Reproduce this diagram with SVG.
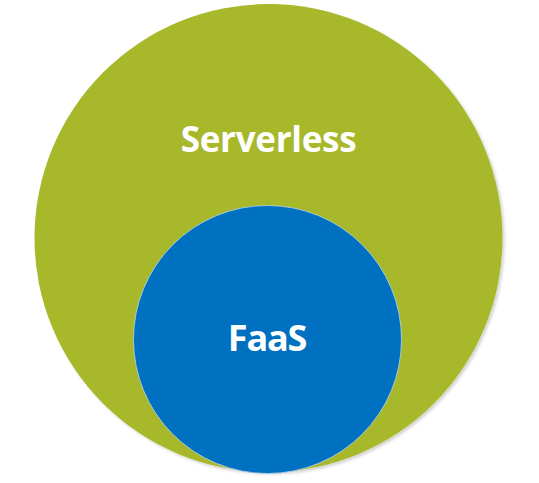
<svg xmlns="http://www.w3.org/2000/svg" width="539" height="483" viewBox="0 0 539 483">
<defs>
<filter id="sh" x="-10%" y="-10%" width="120%" height="120%">
<feGaussianBlur in="SourceAlpha" stdDeviation="1.5"/>
<feOffset dx="1.5" dy="2" result="b"/>
<feFlood flood-color="#000" flood-opacity="0.18"/>
<feComposite in2="b" operator="in"/>
<feMerge><feMergeNode/><feMergeNode in="SourceGraphic"/></feMerge>
</filter>
</defs>
<style>
.lbl{font-family:"Open Sans","Noto Sans","DejaVu Sans",sans-serif;font-weight:bold;fill:#ffffff;text-anchor:middle}
</style>
<rect width="539" height="483" fill="#ffffff"/>
<g id="serverless">
<circle cx="268.5" cy="238" r="234" fill="#A7B92B" filter="url(#sh)"/>
<text class="lbl" x="268.5" y="152" font-size="35" letter-spacing="-0.3">Serverless</text>
</g>
<g id="faas">
<circle cx="267.5" cy="339.5" r="134" fill="#0070C0" stroke="#B9D4EC" stroke-width="0.8"/>
<text class="lbl" x="267" y="351" font-size="36" letter-spacing="-1.2">FaaS</text>
</g>
<g id="connectors"/>
</svg>
